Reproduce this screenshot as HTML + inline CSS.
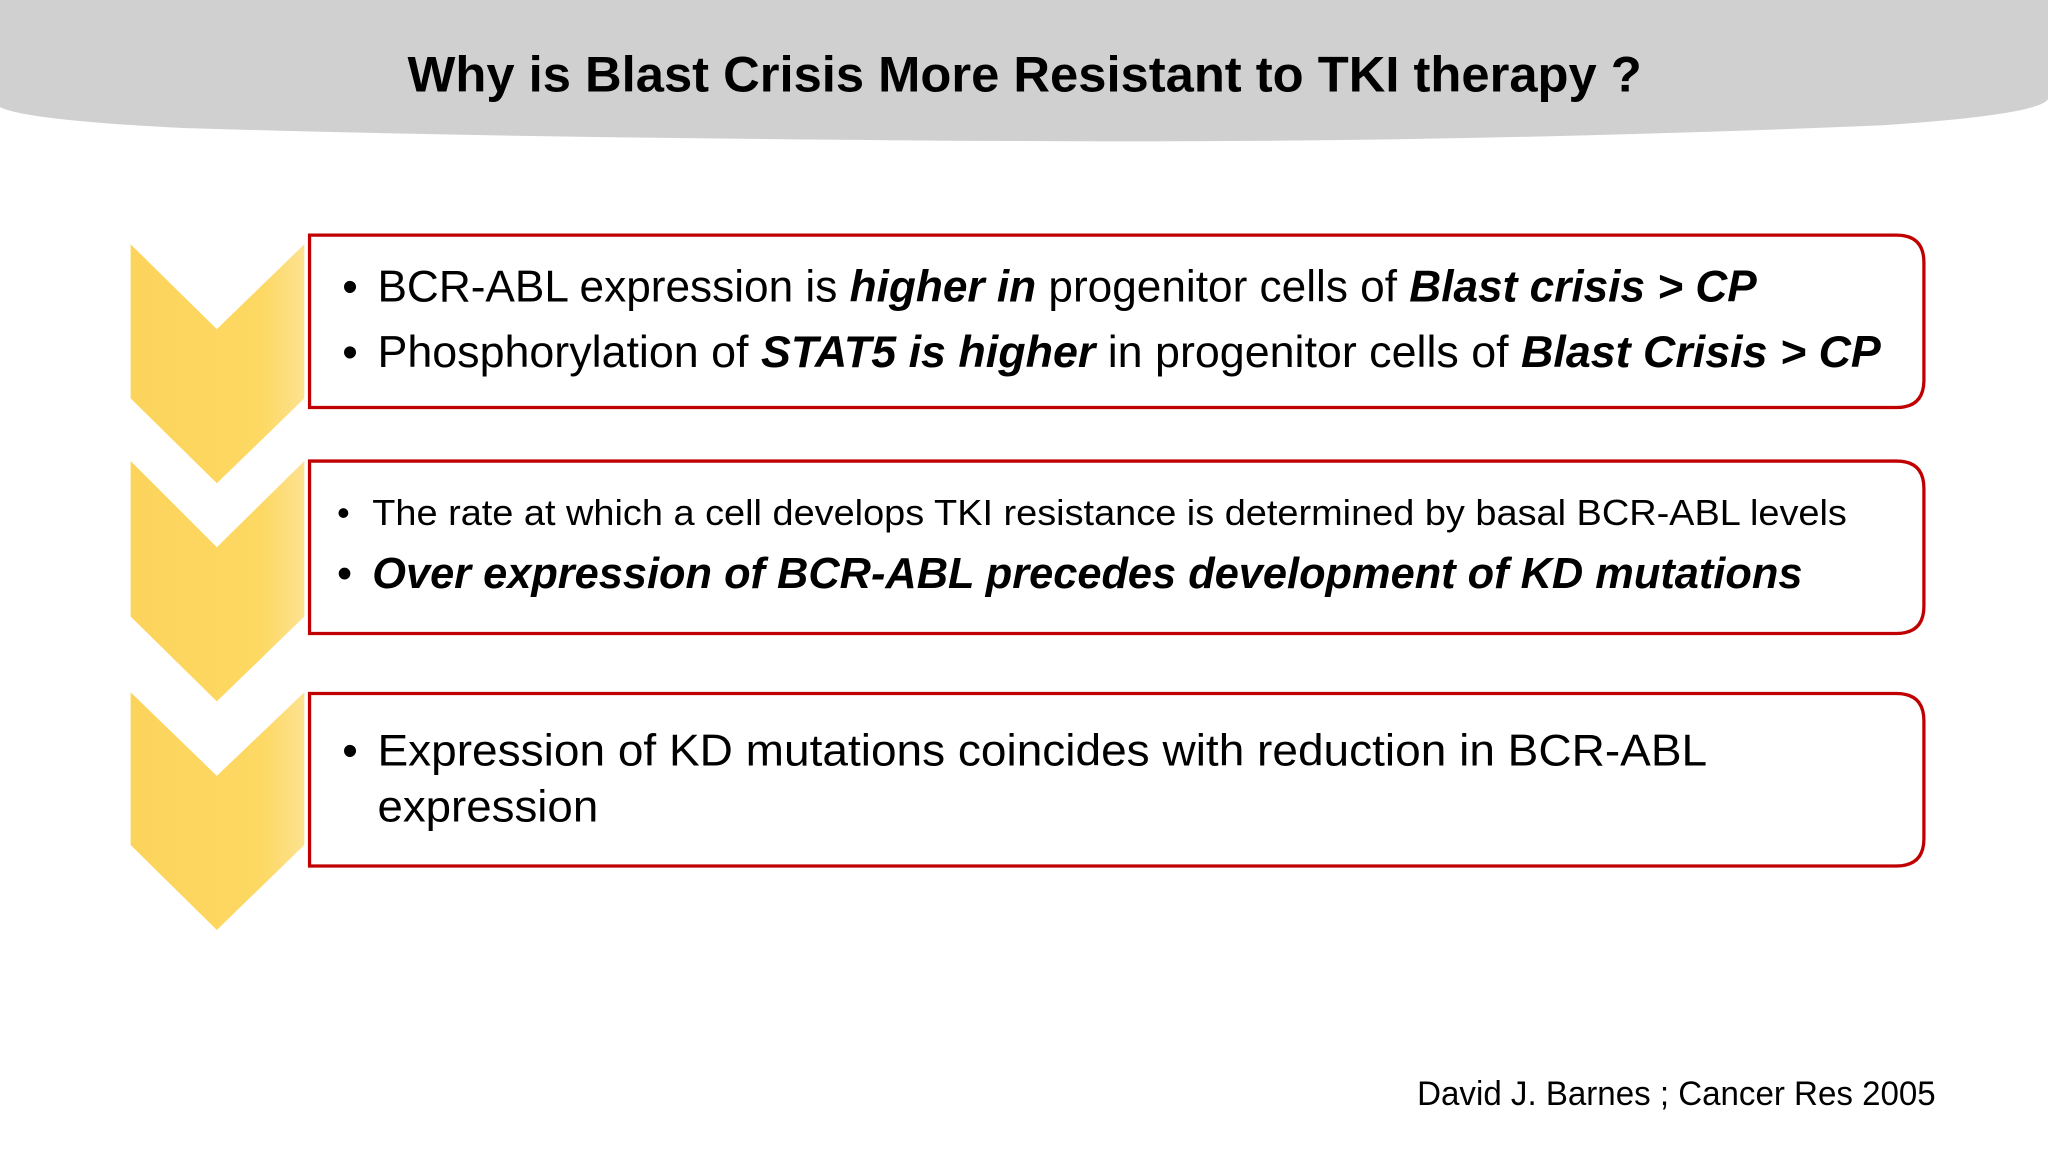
<!DOCTYPE html>
<html><head><meta charset="utf-8"><style>
html,body{margin:0;padding:0;background:#fff;}
svg{display:block;}
text{font-family:"Liberation Sans",sans-serif;fill:#000;}
</style></head><body>
<svg width="2048" height="1152" viewBox="0 0 1568 882">
<defs>
<linearGradient id="yg" x1="0" x2="1" y1="0" y2="0"><stop offset="0" stop-color="#fcd45c"/><stop offset="0.75" stop-color="#fdd862"/><stop offset="1" stop-color="#fde290"/></linearGradient>
</defs>
<path d="M0,0 H1568 V76 Q1560,88 1440,96 Q1100,110 784,108 Q400,106 140,98 Q20,92 0,82 Z" fill="#d0d0d0"/>
<text x="312" y="70" font-size="38" font-weight="bold" textLength="945" lengthAdjust="spacingAndGlyphs">Why is Blast Crisis More Resistant to TKI therapy ?</text>

<g fill="url(#yg)">
<polygon points="100,187 166,252 233,187 233,305 166,370 100,305"/>
<polygon points="100,353 166,419 233,353 233,472 166,537 100,472"/>
<polygon points="100,530 166,594 233,530 233,647 166,712 100,647"/>
</g>

<g fill="#fff" stroke="#c00000" stroke-width="2.5">
<path d="M237,180 H1452 Q1473,180 1473,201 V291 Q1473,312 1452,312 H237 Z"/>
<path d="M237,353 H1452 Q1473,353 1473,374 V464 Q1473,485 1452,485 H237 Z"/>
<path d="M237,531 H1452 Q1473,531 1473,552 V642 Q1473,663 1452,663 H237 Z"/>
</g>

<g>
<text x="262" y="231" font-size="34">•</text>
<text x="289" y="231" font-size="34" textLength="1056" lengthAdjust="spacingAndGlyphs">BCR-ABL expression is <tspan font-weight="bold" font-style="italic">higher in</tspan> progenitor cells of <tspan font-weight="bold" font-style="italic">Blast crisis &gt; CP</tspan></text>
<text x="262" y="281" font-size="34">•</text>
<text x="289" y="281" font-size="34" textLength="1151" lengthAdjust="spacingAndGlyphs">Phosphorylation of <tspan font-weight="bold" font-style="italic">STAT5 is higher</tspan> in progenitor cells of <tspan font-weight="bold" font-style="italic">Blast Crisis &gt; CP</tspan></text>
</g>

<g>
<text x="258" y="402" font-size="28">•</text>
<text x="285" y="402" font-size="28" textLength="1129" lengthAdjust="spacingAndGlyphs">The rate at which a cell develops TKI resistance is determined by basal BCR-ABL levels</text>
<text x="258" y="450" font-size="33">•</text>
<text x="285" y="450" font-size="33" font-weight="bold" font-style="italic" textLength="1095" lengthAdjust="spacingAndGlyphs">Over expression of BCR-ABL precedes development of KD mutations</text>
</g>

<g>
<text x="262" y="586" font-size="34">•</text>
<text x="289" y="586" font-size="34" textLength="1018" lengthAdjust="spacingAndGlyphs">Expression of KD mutations coincides with reduction in BCR-ABL</text>
<text x="289" y="629" font-size="34" textLength="169" lengthAdjust="spacingAndGlyphs">expression</text>
</g>

<text x="1085" y="846" font-size="26" textLength="397" lengthAdjust="spacingAndGlyphs">David J. Barnes ; Cancer Res 2005</text>
</svg>
</body></html>
